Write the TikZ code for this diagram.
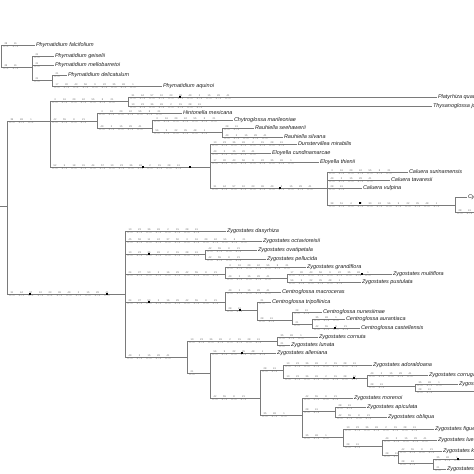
\documentclass[tikz,border=0pt]{standalone}
\usepackage{fontspec}
\setsansfont{Liberation Sans}
\usetikzlibrary{calc}

% one branch of the tree: parent, child end, number of character marks
\newcommand\brn[3]{%
  \draw[br] (#1) |- (#2);
  \ifnum#3>0
  \foreach \k in {1,...,#3}{
    \pgfmathtruncatemacro\cn{mod(\k*13+#3*7,60)+1}
    \path ($(#1 |- #2)+({5+9.5*(\k-1)},0)$) node[chn,above] {\cn} node[chs,below] {0→1};
  }\fi}

\begin{document}
\begin{tikzpicture}[x=1pt,y=-1pt,
  br/.style={draw=black!52, line width=0.75pt},
  tax/.style={font=\fontsize{5.5}{6}\sffamily\itshape, text=black!88, inner sep=0.8pt, anchor=west},
  chn/.style={font=\fontsize{2.5}{2.5}\sffamily, text=black!58, inner sep=0.4pt},
  chs/.style={font=\fontsize{2.5}{2.5}\sffamily, text=black!58, inner sep=0.6pt},
  hit/.style={fill=black, minimum size=2.6pt, inner sep=0pt}
]
\useasboundingbox (0,0) rectangle (474,474);
\fill[white] (0,0) rectangle (474,474);
\clip (0,0) rectangle (474,474);

% Phymatidium
\coordinate (v1) at (1,56);
\coordinate (v32) at (32,67);
\coordinate (v52) at (52,80);
\node[tax] (pfal) at (35,45) {Phymatidium falcifolium};
\node[tax] (pgei) at (54,56) {Phymatidium geiselii};
\node[tax] (pmel) at (54,65) {Phymatidium mellobarretoi};
\node[tax] (pdel) at (67,75) {Phymatidium delicatulum};
\node[tax] (paqu) at (162,86) {Phymatidium aquinoi};
\brn{v1}{pfal.west}{2}
\brn{v1}{v32}{2}
\brn{v32}{pgei.west}{1}
\brn{v32}{pmel.west}{1}
\brn{v32}{v52}{1}
\brn{v52}{pdel.west}{1}
\brn{v52}{paqu.west}{9}

% upper clade
\coordinate (root) at (0,206);
\coordinate (v7) at (7,206);
\coordinate (v50) at (50,121);
\coordinate (v128) at (128,101);
\coordinate (vhin) at (97,121);
\coordinate (v152) at (152,128);
\coordinate (v222) at (222,132);
\coordinate (v210) at (210,167);
\coordinate (v327) at (327,188);
\coordinate (v455) at (455,205);
\coordinate (cend) at (474,212);
\node[tax] (plat) at (437,97) {Platyrhiza quadricolor};
\node[tax] (thys) at (432,106) {Thysanoglossa jordanensis};
\node[tax] (hint) at (182,113) {Hintonella mexicana};
\node[tax] (chyt) at (233,120) {Chytroglossa marileoniae};
\node[tax] (rsee) at (254,128) {Rauhiella seehawerii};
\node[tax] (rsil) at (283,137) {Rauhiella silvana};
\node[tax] (duns) at (297,144) {Dunstervillea mirabilis};
\node[tax] (elcu) at (271,153) {Eloyella cundinamarcae};
\node[tax] (elth) at (319,162) {Eloyella thienii};
\node[tax] (csur) at (408,172) {Caluera surinamensis};
\node[tax] (ctav) at (390,180) {Caluera tavaresii};
\node[tax] (cvul) at (362,188) {Caluera vulpina};
\node[tax] (cyph) at (467,197) {Cypholoron frigidum};
\draw[br] (root) -- (v7);
\brn{v7}{v50}{3}
\brn{v50}{v128}{7}
\brn{v128}{plat.west}{11}
\brn{v128}{thys.west}{8}
\brn{v50}{vhin}{4}
\brn{vhin}{hint.west}{7}
\brn{vhin}{v152}{5}
\brn{v152}{chyt.west}{7}
\brn{v152}{v222}{6}
\brn{v222}{rsee.west}{2}
\brn{v222}{rsil.west}{5}
\brn{v50}{v210}{14}
\brn{v210}{duns.west}{8}
\brn{v210}{elcu.west}{5}
\brn{v210}{elth.west}{9}
\brn{v210}{v327}{11}
\brn{v327}{csur.west}{7}
\brn{v327}{ctav.west}{5}
\brn{v327}{cvul.west}{2}
\brn{v327}{v455}{12}
\brn{v455}{cyph.west}{0}
\brn{v455}{cend}{2}

% Zygostates and Centroglossa
\coordinate (v125) at (125,294);
\coordinate (v205) at (205,254);
\coordinate (v225a) at (225,274);
\coordinate (v287) at (287,278);
\coordinate (v225b) at (225,302);
\coordinate (v257) at (257,310);
\coordinate (v292) at (292,320);
\coordinate (v312) at (312,324);
\coordinate (v187) at (187,357);
\coordinate (v277) at (277,341);
\coordinate (v210b) at (210,373);
\coordinate (v260) at (260,398);
\coordinate (v283) at (283,370);
\coordinate (v367) at (367,378);
\coordinate (v415) at (415,386);
\coordinate (zend1) at (474,391);
\coordinate (v302) at (302,415);
\coordinate (v335) at (335,411);
\coordinate (v343) at (343,437);
\coordinate (v382) at (382,446);
\coordinate (v398) at (398,455);
\coordinate (v433) at (433,463);
\coordinate (zend2) at (474,459);
\node[tax] (zdas) at (226,231) {Zygostates dasyrhiza};
\node[tax] (zoct) at (262,241) {Zygostates octavioreisii};
\node[tax] (zova) at (257,250) {Zygostates ovatipetala};
\node[tax] (zpel) at (266,259) {Zygostates pellucida};
\node[tax] (zgra) at (306,267) {Zygostates grandiflora};
\node[tax] (zmul) at (392,274) {Zygostates multiflora};
\node[tax] (zpus) at (361,282) {Zygostates pustulata};
\node[tax] (cmac) at (281,292) {Centroglossa macroceras};
\node[tax] (ctri) at (271,302) {Centroglossa tripollinica};
\node[tax] (cnun) at (322,312) {Centroglossa nunesiimae};
\node[tax] (caur) at (345,319) {Centroglossa aurantiaca};
\node[tax] (ccas) at (360,328) {Centroglossa castellensis};
\node[tax] (zcor) at (318,337) {Zygostates cornuta};
\node[tax] (zlun) at (290,345) {Zygostates lunata};
\node[tax] (zall) at (276,353) {Zygostates alleniana};
\node[tax] (zado) at (372,365) {Zygostates adoraldoana};
\node[tax] (zcrg) at (428,375) {Zygostates corrugata};
\node[tax] (zbra) at (458,384) {Zygostates bradei};
\node[tax] (zmor) at (353,398) {Zygostates morenoi};
\node[tax] (zapi) at (366,407) {Zygostates apiculata};
\node[tax] (zobl) at (387,417) {Zygostates obliqua};
\node[tax] (zfig) at (434,429) {Zygostates figueiroae};
\node[tax] (zlue) at (437,440) {Zygostates luerorum};
\node[tax] (zkuh) at (442,451) {Zygostates kuhlmannii};
\node[tax] (zlas) at (446,469) {Zygostates papillosa};
\brn{v7}{v125}{11}
\brn{v125}{zdas.west}{8}
\brn{v125}{zoct.west}{13}
\brn{v125}{v205}{8}
\brn{v205}{zova.west}{4}
\brn{v205}{zpel.west}{4}
\brn{v125}{v225a}{10}
\brn{v225a}{zgra.west}{7}
\brn{v225a}{v287}{5}
\brn{v287}{zmul.west}{9}
\brn{v287}{zpus.west}{6}
\brn{v125}{v225b}{10}
\brn{v225b}{cmac.west}{5}
\brn{v225b}{v257}{2}
\brn{v257}{ctri.west}{1}
\brn{v257}{v292}{2}
\brn{v292}{cnun.west}{2}
\brn{v292}{v312}{1}
\brn{v312}{caur.west}{3}
\brn{v312}{ccas.west}{4}
\brn{v125}{v187}{5}
\brn{v187}{v277}{8}
\brn{v277}{zcor.west}{3}
\brn{v277}{zlun.west}{1}
\brn{v187}{v210b}{1}
\brn{v210b}{zall.west}{6}
\brn{v210b}{v260}{4}
\brn{v260}{v283}{2}
\brn{v283}{zado.west}{8}
\brn{v283}{v367}{8}
\brn{v367}{zcrg.west}{5}
\brn{v367}{v415}{2}
\brn{v415}{zbra.west}{3}
\brn{v415}{zend1}{2}
\brn{v260}{v302}{3}
\brn{v302}{zmor.west}{4}
\brn{v302}{v335}{2}
\brn{v335}{zapi.west}{2}
\brn{v335}{zobl.west}{4}
\brn{v302}{v343}{3}
\brn{v343}{zfig.west}{8}
\brn{v343}{v382}{2}
\brn{v382}{zlue.west}{5}
\brn{v382}{v398}{2}
\brn{v398}{zkuh.west}{4}
\brn{v398}{v433}{2}
\brn{v433}{zlas.west}{1}
\brn{v433}{zend2}{3}

% unique changes
\node[hit] (m1) at (180,97) {};
\node[hit] (m2) at (143,167) {};
\node[hit] (m3) at (190,167) {};
\node[hit] (m4) at (280,188) {};
\node[hit] (m5) at (360,203) {};
\node[hit] (m6) at (30,294) {};
\node[hit] (m7) at (107,294) {};
\node[hit] (m8) at (149,254) {};
\node[hit] (m9) at (149,302) {};
\node[hit] (m10) at (240,310) {};
\node[hit] (m11) at (362,274) {};
\node[hit] (m12) at (335,328) {};
\node[hit] (m13) at (242,353) {};
\node[hit] (m14) at (354,378) {};
\node[hit] (m15) at (458,459) {};
\end{tikzpicture}
\end{document}
